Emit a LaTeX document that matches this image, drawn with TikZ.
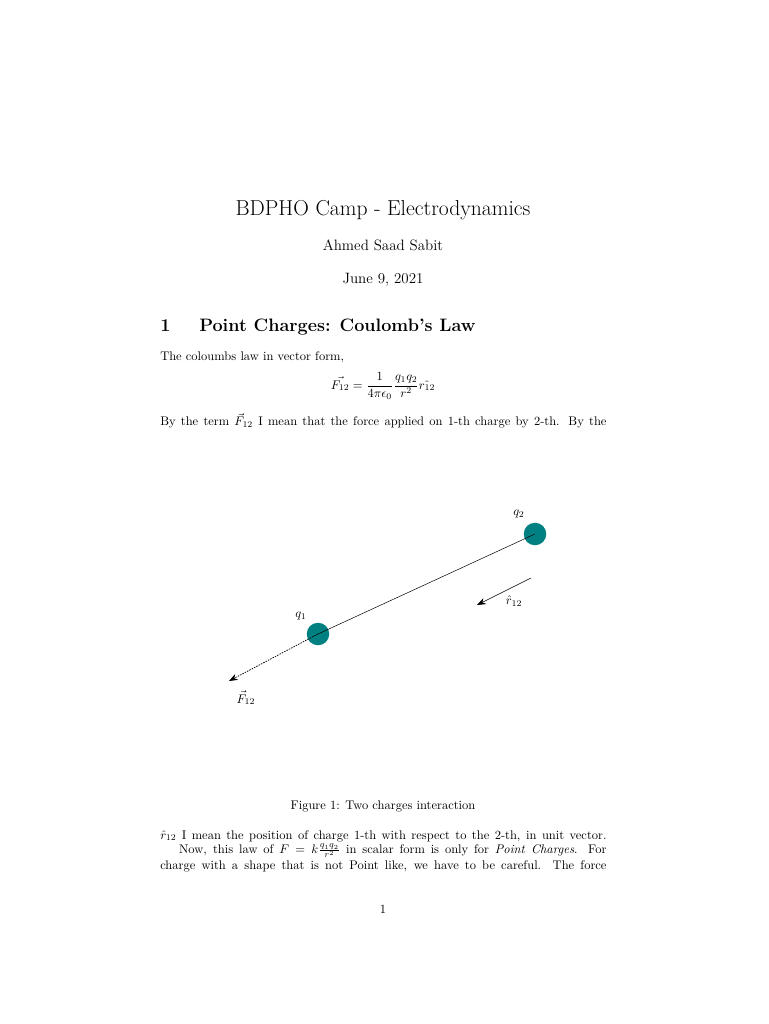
\documentclass[tikz,border=0pt]{standalone}
\usepackage{amsmath}
\usetikzlibrary{arrows.meta}
\definecolor{chg}{RGB}{0,128,128}
\newcommand{\jl}[1]{\parbox{357pt}{\parfillskip=0pt\relax\noindent #1}}
\begin{document}
\begin{tikzpicture}[x=0.8pt,y=-0.8pt,
  txt/.style={inner sep=0pt,anchor=base west},
  ctr/.style={inner sep=0pt,anchor=base},
  charge/.style={circle,fill=chg,minimum size=18pt,inner sep=0pt},
  lbl/.style={inner sep=1pt}]
\useasboundingbox (0,0) rectangle (768,1024);
\node[ctr] (title) at (383,216) {\LARGE BDPHO Camp - Electrodynamics};
\node[ctr] (auth) at (383,250) {\large Ahmed Saad Sabit};
\node[ctr] (date) at (383,283) {\large June 9, 2021};
\node[txt] (secn) at (160,331) {\Large\bfseries 1};
\node[txt] (sec) at (199,331) {\Large\bfseries Point Charges: Coulomb's Law};
\node[txt] (l1) at (160,360) {The coloumbs law in vector form,};
\node[ctr] (eq) at (383,389) {$\displaystyle \vec{F_{12}} = \frac{1}{4\pi\epsilon_0}\frac{q_1q_2}{r^2}\hat{r_{12}}$};
\node[txt] (l2) at (160,424) {\jl{By the term $\vec{F}_{12}$ I mean that the force applied on 1-th charge by 2-th. By the}};
% figure
\node[charge] (q2) at (535,534) {};
\node[charge] (q1) at (318,634) {};
\coordinate (fend) at (229,681);
\draw (q1.center) -- (q2.center);
\draw[dash pattern=on 1.2pt off 0.9pt,semithick,-{Stealth[length=7pt]}] (q1.center) -- (fend);
\node[lbl] (lq2) at (519,514) {$q_2$};
\node[lbl] (lq1) at (301,616) {$q_1$};
\node[lbl] (lF) at (246,698) {$\vec{F}_{12}$};
\coordinate (ra) at (531,578);
\coordinate (rb) at (477,605);
\draw[-{Stealth[length=7pt]}] (ra) -- (rb);
\node[lbl] (lr) at (514,601) {$\hat{r}_{12}$};
\node[ctr] (cap) at (383,809) {Figure 1: Two charges interaction};
\node[txt] (l3) at (160,839) {\jl{$\hat{r}_{12}$ I mean the position of charge 1-th with respect to the 2-th, in unit vector.}};
\node[txt] (l4) at (160,854) {\jl{\hspace*{15pt}Now, this law of $F=k\frac{q_1q_2}{r^2}$ in scalar form is only for \emph{Point Charges}. For}};
\node[txt] (l5) at (160,869) {\jl{charge with a shape that is not Point like, we have to be careful. The force}};
\node[ctr] (pg) at (383,913) {1};
\end{tikzpicture}
\end{document}
